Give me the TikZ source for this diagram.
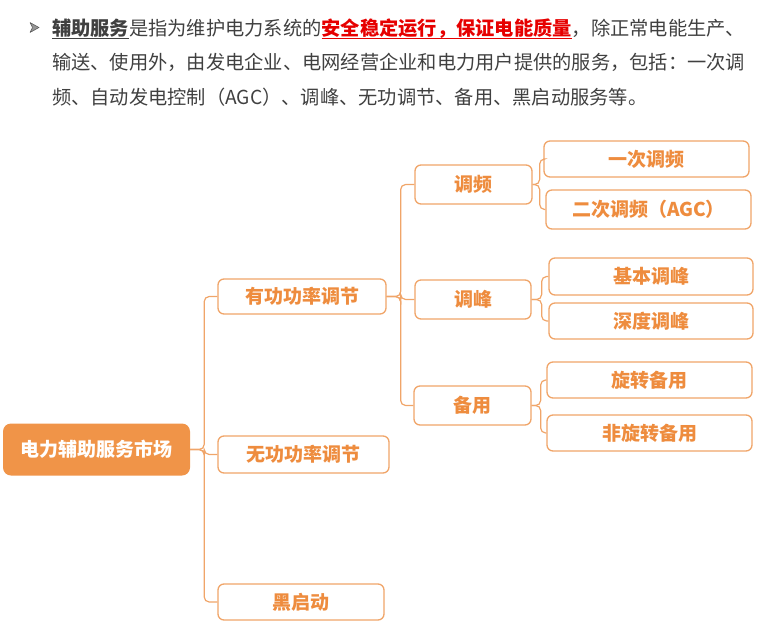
\documentclass[tikz,border=0pt]{standalone}
\usepackage{fontspec}
\setmainfont{Noto Sans CJK SC}
\definecolor{orfill}{RGB}{240,148,72}
\definecolor{ortext}{RGB}{238,140,62}
\definecolor{orline}{RGB}{240,165,105}
\definecolor{txtgray}{RGB}{64,64,64}
\definecolor{redtxt}{RGB}{230,0,0}
\newcommand\myul[2]{{\color{#1}\setbox0\hbox{#2}\rlap{\rule[-4pt]{\wd0}{1.3pt}}\box0}}
\newcommand\lineB{输送、使用外，由发电企业、电网经营企业和电力用户提供的服务，包括：一次调}
\setbox0\hbox{\fontsize{20}{20}\selectfont\lineB}
\edef\hdrwd{\the\wd0}
\tikzset{
  box/.style={draw=orline, line width=1.3pt, rounded corners=6pt, fill=white,
    inner sep=0pt, text=ortext, font=\fontsize{19}{19}\selectfont\bfseries},
  rootbox/.style={fill=orfill, rounded corners=8pt, inner sep=0pt, text=white,
    font=\fontsize{19}{19}\selectfont\bfseries},
  conn/.style={draw=orline, line width=1.2pt, rounded corners=5pt},
  hline/.style={anchor=base west, inner sep=0pt, text=txtgray,
    font=\fontsize{\hdrfs}{\hdrfs}\selectfont},
}
\begin{document}
\begin{tikzpicture}[x=1pt,y=-1pt]
\pgfmathsetmacro\hdrfs{20*693/\hdrwd}
\useasboundingbox (0,0) rectangle (758,637);
% header
\filldraw[fill=txtgray!55, draw=txtgray!90, line width=0.5pt, line join=round]
  (30,22.5) -- (39,27.5) -- (30,32.5) -- (32.5,27.5) -- cycle;
\node[hline] (l1) at (52,35) {\myul{txtgray}{\bfseries 辅助服务}是指为维护电力系统的\myul{redtxt}{\bfseries 安全稳定运行，保证电能质量}，除正常电能生产、};
\node[hline] (l2) at (52,69.5) {\lineB};
\node[hline] (l3) at (52,104.5) {频、自动发电控制（AGC）、调峰、无功调节、备用、黑启动服务等。};
% nodes
\node[rootbox, minimum width=187pt, minimum height=52pt] (root) at (96.5,449.5) {电力辅助服务市场};
\node[box, minimum width=168pt, minimum height=35pt] (yg) at (302,296.5) {有功功率调节};
\node[box, minimum width=171pt, minimum height=37pt] (wg) at (303.5,454.5) {无功功率调节};
\node[box, minimum width=166pt, minimum height=36pt] (hq) at (301,602) {黑启动};
\node[box, minimum width=117pt, minimum height=39pt] (tp) at (473.5,184.5) {调频};
\node[box, minimum width=116pt, minimum height=39pt] (tf) at (473,299.5) {调峰};
\node[box, minimum width=117pt, minimum height=39pt] (by) at (472.5,405.5) {备用};
\node[box, minimum width=205pt, minimum height=36pt] (yc) at (646.5,159) {一次调频};
\node[box, minimum width=205pt, minimum height=39pt] (ec) at (648.5,209.5) {二次调频（AGC）};
\node[box, minimum width=204pt, minimum height=37pt] (jb) at (651,276.5) {基本调峰};
\node[box, minimum width=204pt, minimum height=36pt] (sd) at (651,321) {深度调峰};
\node[box, minimum width=205pt, minimum height=36pt] (xz) at (649.5,380) {旋转备用};
\node[box, minimum width=205pt, minimum height=36pt] (fx) at (649.5,433) {非旋转备用};
% connectors
\foreach \c in {yg,wg,hq} \draw[conn] (root.east) -- ++(14,0) |- (\c.west);
\foreach \c in {tp,tf,by} \draw[conn] (yg.east) -- ++(14,0) |- (\c.west);
\foreach \c in {yc,ec} \draw[conn] (tp.east) -- ++(7,0) |- (\c.west);
\foreach \c in {jb,sd} \draw[conn] (tf.east) -- ++(10,0) |- (\c.west);
\foreach \c in {xz,fx} \draw[conn] (by.east) -- ++(9,0) |- (\c.west);
\end{tikzpicture}
\end{document}
